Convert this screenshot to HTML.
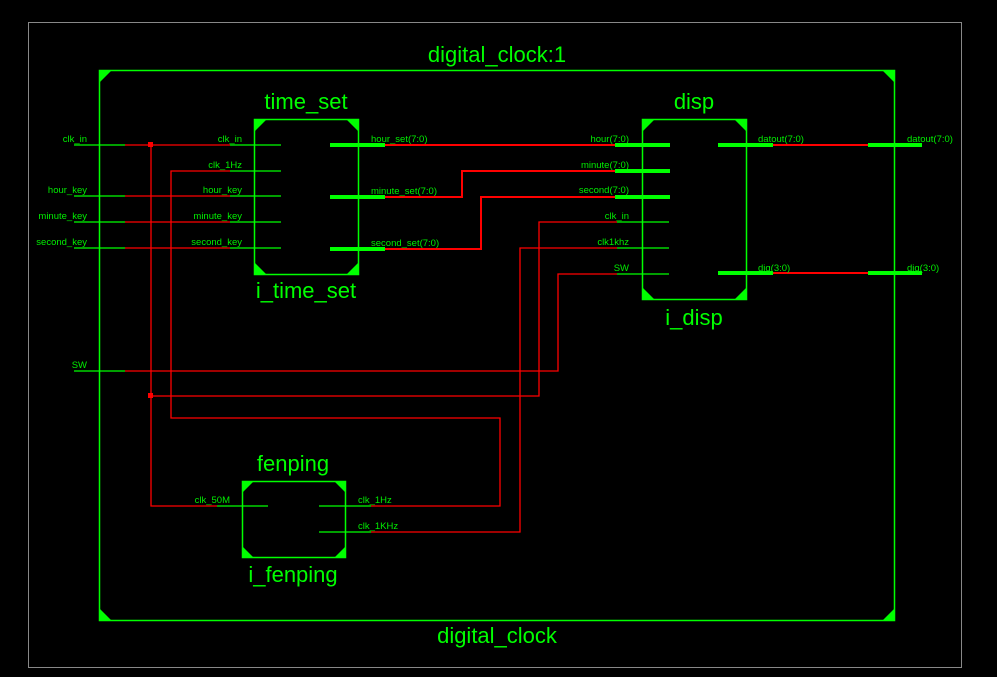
<!DOCTYPE html>
<html><head><style>html,body{margin:0;padding:0;background:#000;}svg{display:block}</style></head>
<body>
<svg width="997" height="677" viewBox="0 0 997 677" xmlns="http://www.w3.org/2000/svg" font-family="Liberation Sans, sans-serif">
<rect x="0" y="0" width="997" height="677" fill="#000"/>
<rect x="28.5" y="22.5" width="933" height="645" fill="none" stroke="#888" stroke-width="1"/>
<rect x="99.5" y="70.5" width="795" height="550" fill="none" stroke="#00ff00" stroke-width="1.5"/>
<g fill="#00ff00">
<polygon points="99,70 112,70 99,83"/><polygon points="895,70 882,70 895,83"/>
<polygon points="99,621 112,621 99,608"/><polygon points="895,621 882,621 895,608"/>
</g>
<g fill="#00ff00" font-size="22" text-anchor="middle">
<text x="497" y="62">digital_clock:1</text>
<text x="497" y="643">digital_clock</text>
<text x="306" y="109">time_set</text>
<text x="306" y="298">i_time_set</text>
<text x="694" y="109">disp</text>
<text x="694" y="325">i_disp</text>
<text x="293" y="471">fenping</text>
<text x="293" y="582">i_fenping</text>
</g>
<g stroke="#ff0000" stroke-width="1.3" fill="none">
<line x1="125" y1="145" x2="230" y2="145"/>
<line x1="125" y1="196" x2="230" y2="196"/>
<line x1="125" y1="222" x2="230" y2="222"/>
<line x1="125" y1="248" x2="230" y2="248"/>
<polyline points="151,145 151,506 217,506"/>
<polyline points="151,396 539,396 539,222 617,222"/>
<polyline points="230,171 171,171 171,418 500,418 500,506 371,506"/>
<polyline points="371,532 520,532 520,248 617,248"/>
<polyline points="125,371 558,371 558,274 617,274"/>
</g>
<g stroke="#ff0000" stroke-width="2" fill="none">
<line x1="385" y1="145" x2="615" y2="145"/>
<polyline points="385,197 462,197 462,171 615,171"/>
<polyline points="385,249 481,249 481,197 615,197"/>
<line x1="773" y1="145" x2="868" y2="145"/>
<line x1="773" y1="273" x2="868" y2="273"/>
</g>
<rect x="148" y="142" width="5" height="5" fill="#ff0000"/>
<rect x="148" y="393" width="5" height="5" fill="#ff0000"/>
<g stroke="#00ff00" stroke-width="1.2">
<line x1="74" y1="145" x2="125" y2="145"/>
<line x1="74" y1="196" x2="125" y2="196"/>
<line x1="74" y1="222" x2="125" y2="222"/>
<line x1="74" y1="248" x2="125" y2="248"/>
<line x1="74" y1="371" x2="125" y2="371"/>
<line x1="230" y1="145" x2="281" y2="145"/>
<line x1="230" y1="171" x2="281" y2="171"/>
<line x1="230" y1="196" x2="281" y2="196"/>
<line x1="230" y1="222" x2="281" y2="222"/>
<line x1="230" y1="248" x2="281" y2="248"/>
<line x1="617" y1="222" x2="669" y2="222"/>
<line x1="617" y1="248" x2="669" y2="248"/>
<line x1="617" y1="274" x2="669" y2="274"/>
<line x1="217" y1="506" x2="268" y2="506"/>
<line x1="319" y1="506" x2="371" y2="506"/>
<line x1="319" y1="532" x2="371" y2="532"/>
</g>
<g fill="#00ff00">
<rect x="330" y="143" width="55" height="4"/>
<rect x="330" y="195" width="55" height="4"/>
<rect x="330" y="247" width="55" height="4"/>
<rect x="615" y="143" width="55" height="4"/>
<rect x="615" y="169" width="55" height="4"/>
<rect x="615" y="195" width="55" height="4"/>
<rect x="718" y="143" width="55" height="4"/>
<rect x="718" y="271" width="55" height="4"/>
<rect x="868" y="143" width="54" height="4"/>
<rect x="868" y="271" width="54" height="4"/>
</g>
<g fill="none" stroke="#00ff00" stroke-width="1.5">
<rect x="254.5" y="119.5" width="104" height="155"/>
<rect x="642.5" y="119.5" width="104" height="180"/>
<rect x="242.5" y="481.5" width="103" height="76"/>
</g>
<g fill="#00ff00">
<polygon points="254,119 267,119 254,132"/><polygon points="359,119 346,119 359,132"/><polygon points="254,275 267,275 254,262"/><polygon points="359,275 346,275 359,262"/>
<polygon points="642,119 655,119 642,132"/><polygon points="747,119 734,119 747,132"/><polygon points="642,300 655,300 642,287"/><polygon points="747,300 734,300 747,287"/>
<polygon points="242,481 254,481 242,493"/><polygon points="346,481 334,481 346,493"/><polygon points="242,558 254,558 242,546"/><polygon points="346,558 334,558 346,546"/>
</g>
<g fill="#00ee00" font-size="9.5">
<g text-anchor="end">
<text x="87" y="142">clk_in</text>
<text x="87" y="193">hour_key</text>
<text x="87" y="219">minute_key</text>
<text x="87" y="245">second_key</text>
<text x="87" y="368">SW</text>
<text x="242" y="142">clk_in</text>
<text x="242" y="168">clk_1Hz</text>
<text x="242" y="193">hour_key</text>
<text x="242" y="219">minute_key</text>
<text x="242" y="245">second_key</text>
<text x="629" y="142">hour(7:0)</text>
<text x="629" y="168">minute(7:0)</text>
<text x="629" y="193">second(7:0)</text>
<text x="629" y="219">clk_in</text>
<text x="629" y="245">clk1khz</text>
<text x="629" y="271">SW</text>
<text x="230" y="503">clk_50M</text>
</g>
<text x="371" y="142">hour_set(7:0)</text>
<text x="371" y="194">minute_set(7:0)</text>
<text x="371" y="246">second_set(7:0)</text>
<text x="758" y="142">datout(7:0)</text>
<text x="758" y="271">dig(3:0)</text>
<text x="907" y="142">datout(7:0)</text>
<text x="907" y="271">dig(3:0)</text>
<text x="358" y="503">clk_1Hz</text>
<text x="358" y="529">clk_1KHz</text>
</g>
</svg>
</body></html>
